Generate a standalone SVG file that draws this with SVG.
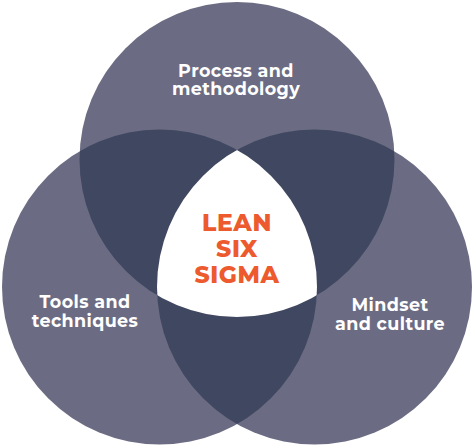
<svg xmlns="http://www.w3.org/2000/svg" width="474" height="446" viewBox="0 0 474 446">
<defs>
<style>
.c{fill:#6b6c83}
.o{fill:#404760}
.lbl{font-family:"Montserrat","Noto Sans","Open Sans",sans-serif;font-weight:700;font-size:17.5px;letter-spacing:0.4px;fill:#ffffff;text-anchor:middle}
.core{font-family:"Montserrat","Noto Sans","Open Sans",sans-serif;font-weight:800;font-size:23.5px;letter-spacing:0.6px;fill:#ec5a2e;text-anchor:middle}
</style>
<clipPath id="clipT"><circle cx="237" cy="159.5" r="157.5"/></clipPath>
<clipPath id="clipL"><circle cx="159.5" cy="287" r="157.5"/></clipPath>
<clipPath id="clipR"><circle cx="314.5" cy="287" r="157.5"/></clipPath>
</defs>
<rect width="474" height="446" fill="#ffffff"/>
<g id="node-process">
<circle class="c" cx="237" cy="159.5" r="157.5"/>
<text class="lbl" x="236" y="77">Process and</text>
<text class="lbl" x="236" y="95">methodology</text>
</g>
<g id="node-tools">
<circle class="c" cx="159.5" cy="287" r="157.5"/>
<text class="lbl" x="85" y="308">Tools and</text>
<text class="lbl" x="85" y="327">techniques</text>
</g>
<g id="node-mindset">
<circle class="c" cx="314.5" cy="287" r="157.5"/>
</g>
<g id="overlaps">
<circle class="o" cx="159.5" cy="287" r="157.5" clip-path="url(#clipT)"/>
<circle class="o" cx="314.5" cy="287" r="157.5" clip-path="url(#clipT)"/>
<circle class="o" cx="314.5" cy="287" r="157.5" clip-path="url(#clipL)"/>
</g>
<g id="node-core">
<g clip-path="url(#clipT)"><circle cx="159.5" cy="287" r="157.5" fill="#ffffff" clip-path="url(#clipR)"/></g>
<text class="core" x="237" y="231">LEAN</text>
<text class="core" x="237" y="257">SIX</text>
<text class="core" x="237" y="283">SIGMA</text>
</g>
<g id="node-mindset-label">
<text class="lbl" x="390" y="311">Mindset</text>
<text class="lbl" x="390" y="330">and culture</text>
</g>
</svg>
